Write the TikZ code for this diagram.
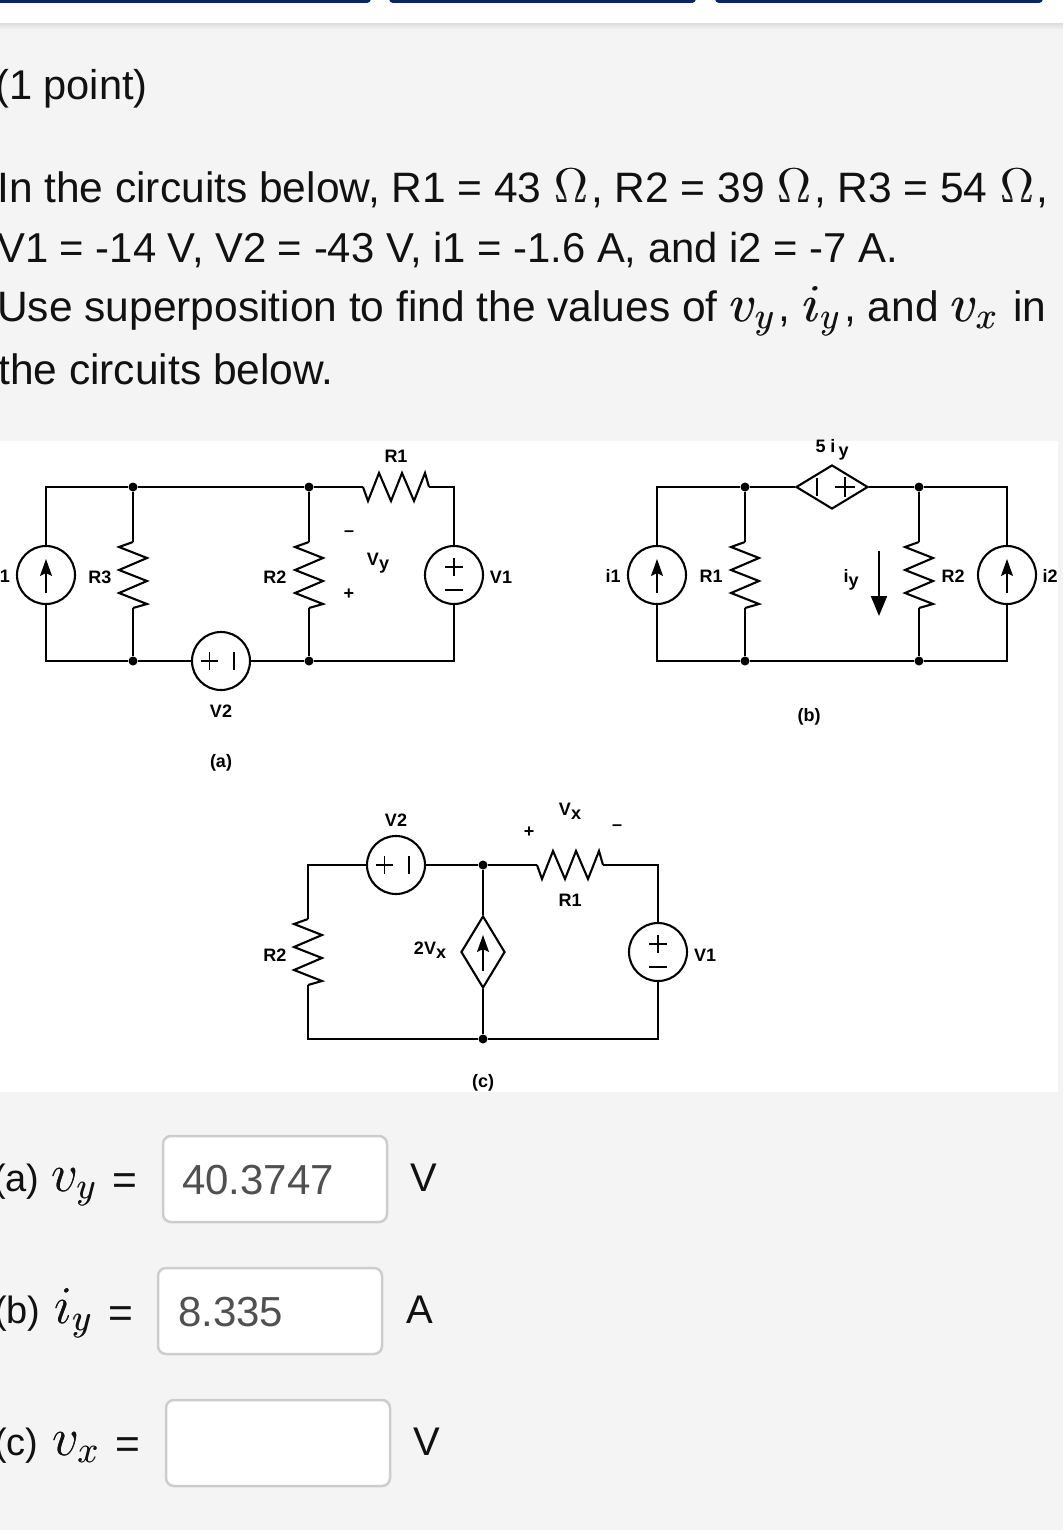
\RequirePackage{fix-cm}
\documentclass[tikz,border=0pt]{standalone}
\usepackage{fontspec}
\setmainfont{Liberation Sans}
\usetikzlibrary{arrows.meta,shapes.geometric}

\definecolor{pagegrey}{HTML}{F4F4F4}
\definecolor{navy}{HTML}{0B2560}
\definecolor{txt}{HTML}{111111}
\definecolor{boxline}{HTML}{CDCDCD}
\definecolor{anstxt}{HTML}{505050}

\newcommand{\mth}[1]{{\fontsize{49}{49}\selectfont\rlap{$#1$}\hspace{0.6pt}$#1$}}
\newcommand{\mtv}[1]{{\fontsize{53}{53}\selectfont\rlap{$#1$}\hspace{0.6pt}$#1$}}

\tikzset{
  wire/.style={line width=2.1pt, line join=miter},
  symb/.style={line width=1.6pt},
  dot/.style={circle, fill=black, inner sep=0pt, minimum size=9pt},
  lab/.style={inner sep=0pt, font=\fontsize{18}{18}\bfseries\selectfont},
  body/.style={anchor=base west, inner sep=0pt, text=txt, font=\fontsize{42.5}{42.5}\selectfont},
  rowtag/.style={body, font=\fontsize{38}{38}\selectfont},
  unit/.style={body, font=\fontsize{40}{40}\selectfont},
  ansbox/.style={draw=boxline, line width=2.5pt, fill=white, rounded corners=8pt, minimum width=224pt, minimum height=86pt, inner sep=0pt},
  anstext/.style={anchor=base west, inner sep=0pt, text=anstxt, font=\fontsize{42}{42}\selectfont},
  srcbase/.style={circle, draw, fill=white, line width=2.1pt, minimum size=58pt, inner sep=0pt},
  isrc/.style={srcbase, path picture={
      \draw[symb,-{Stealth[length=17pt,width=12pt,inset=3pt]}] ([yshift=-18pt]path picture bounding box.center) -- ([yshift=16pt]path picture bounding box.center);}},
  vsrcv/.style={srcbase, path picture={
      \draw[symb] (path picture bounding box.center) +(-9,-8) -- +(9,-8) +(0,-17) -- +(0,1) +(-9,15) -- +(9,15);}},
  vsrch/.style={srcbase, path picture={
      \draw[symb] (path picture bounding box.center) +(-20,0) -- +(-3,0) +(-11.5,-9) -- +(-11.5,9) +(13,-9) -- +(13,9);}},
  dsrch/.style={diamond, draw, fill=white, line width=2.1pt, inner sep=0pt, minimum width=72pt, minimum height=44pt, path picture={
      \draw[symb] (path picture bounding box.center) +(-15,-9) -- +(-15,9) +(3,0) -- +(23,0) +(13,-10) -- +(13,10);}},
  dsrcv/.style={diamond, draw, fill=white, line width=2.1pt, inner sep=0pt, minimum width=44pt, minimum height=72pt, path picture={
      \draw[symb,-{Stealth[length=17pt,width=12pt,inset=3pt]}] ([yshift=-19pt]path picture bounding box.center) -- ([yshift=17pt]path picture bounding box.center);}},
  vres/.pic={
    \draw[wire] (0,-33) coordinate (-s) -- (-14,-28) -- (14,-17) -- (-14,-5) -- (14,6) -- (-14,18) -- (14,29) -- (0,33) coordinate (-e);}
}

\begin{document}
\begin{tikzpicture}[x=1pt,y=-1pt]
\useasboundingbox (0,0) rectangle (1063,1530);

%% page
\fill[pagegrey] (0,0) rectangle (1063,1530);
\fill[white] (0,0) rectangle (1063,24);
\shade[top color=black!12, bottom color=pagegrey] (0,24) rectangle (1063,30);
\fill[navy, rounded corners=4pt] (-10,-10) rectangle (371,3);
\fill[navy, rounded corners=4pt] (389,-10) rectangle (696,3);
\fill[navy, rounded corners=4pt] (715,-10) rectangle (1043,3);
\fill[white] (0,441) rectangle (1058,1092);

%% text
\node[body, font=\fontsize{41.6}{41.6}\selectfont] (pts) at (-5,100) {(1 point)};
\node[body] (l1) at (-3,203) {In the circuits below, R1 = 43\hspace{13pt}\mth{\Omega}\hspace{3pt}, R2 = 39\hspace{13pt}\mth{\Omega}\hspace{3pt}, R3 = 54\hspace{13pt}\mth{\Omega}\hspace{3pt},};
\node[body, font=\fontsize{41.8}{41.8}\selectfont] (l2) at (-3,262) {V1 = -14 V, V2 = -43 V, i1 = -1.6 A, and i2 = -7 A.};
\node[body] (l3) at (-3,321) {Use superposition to find the values of \mtv{v_y}\hspace{4pt}, \mtv{i_y}\hspace{4pt}, and \mtv{v_x}\hspace{16pt}in};
\node[body] (l4) at (-2,384) {the circuits below.};

%% circuit a
\node[dot] (ja) at (133,487) {};
\node[dot] (jb) at (309,487) {};
\node[dot] (jc) at (133,661) {};
\node[dot] (jd) at (309,661) {};
\coordinate (atl) at (46,487);
\coordinate (abl) at (46,661);
\coordinate (atr) at (454,487);
\coordinate (abr) at (454,661);
\node[isrc] (ia) at (46,575) {};
\node[vsrcv] (va) at (454,575) {};
\node[vsrch] (vb) at (221,661) {};
\pic (r3a) at (133,575) {vres};
\pic (r2a) at (309,575) {vres};
\pic[rotate=90] (r1a) at (396,487) {vres};

\draw[wire] (ia) -- (atl) -- (ja);
\draw[wire] (ia) -- (abl) -- (jc);
\draw[wire] (ja) -- (jb);
\draw[wire] (jb) -- (r1a-s);
\draw[wire] (r1a-e) -- (atr) -- (va);
\draw[wire] (va) -- (abr) -- (jd);
\draw[wire] (jc) -- (vb);
\draw[wire] (vb) -- (jd);
\draw[wire] (ja) -- (r3a-s);
\draw[wire] (r3a-e) -- (jc);
\draw[wire] (jb) -- (r2a-s);
\draw[wire] (r2a-e) -- (jd);

\node[lab] (la1) at (5,576) {1};
\node[lab] (la2) at (100,577) {R3};
\node[lab] (la3) at (275,577) {R2};
\node[lab] (la4) at (396,456) {R1};
\node[lab] (la5) at (501,577) {V1};
\node[lab] (la6) at (221,711) {V2};
\node[lab] (la7) at (378,563) {V\raisebox{-4pt}{y}};
\node[lab] (la8) at (349,594) {+};
\node[lab] (la9) at (349,534) {–};
\node[lab] (la10) at (221,763) {(a)};

%% circuit b
\node[dot] (je) at (745,487) {};
\node[dot] (jf) at (919,487) {};
\node[dot] (jg) at (745,661) {};
\node[dot] (jh) at (919,661) {};
\coordinate (btl) at (657,487);
\coordinate (bbl) at (657,661);
\coordinate (btr) at (1007,487);
\coordinate (bbr) at (1007,661);
\coordinate (iyt) at (879,551);
\coordinate (iyb) at (879,616);
\node[isrc] (ib) at (657,575) {};
\node[isrc] (ic) at (1007,575) {};
\node[dsrch] (db) at (832,487) {};
\pic (r1b) at (745,575) {vres};
\pic (r2b) at (919,575) {vres};

\draw[wire] (ib) -- (btl) -- (je);
\draw[wire] (ib) -- (bbl) -- (jg);
\draw[wire] (je) -- (db);
\draw[wire] (db) -- (jf);
\draw[wire] (jf) -- (btr) -- (ic);
\draw[wire] (ic) -- (bbr) -- (jh);
\draw[wire] (jg) -- (jh);
\draw[wire] (je) -- (r1b-s);
\draw[wire] (r1b-e) -- (jg);
\draw[wire] (jf) -- (r2b-s);
\draw[wire] (r2b-e) -- (jh);
\draw[wire,-{Triangle[length=20pt,width=16pt]}] (iyt) -- (iyb);

\node[lab] (lb1) at (613,576) {i1};
\node[lab] (lb2) at (711,576) {R1};
\node[lab] (lb3) at (851,580) {i\raisebox{-4pt}{y}};
\node[lab] (lb4) at (953,576) {R2};
\node[lab] (lb5) at (1050,576) {i2};
\node[lab] (lb6) at (832,450) {5 i\,\raisebox{-4pt}{y}};
\node[lab] (lb7) at (809,717) {(b)};

%% circuit c
\node[dot] (jj) at (483,865) {};
\node[dot] (jk) at (483,1039) {};
\coordinate (ctl) at (308,865);
\coordinate (cbl) at (308,1039);
\coordinate (ctr) at (658,865);
\coordinate (cbr) at (658,1039);
\node[vsrch] (vc) at (396,865) {};
\node[vsrcv] (vd) at (658,952) {};
\node[dsrcv] (dc) at (483,952) {};
\pic (r2c) at (308,952) {vres};
\pic[rotate=90] (r1c) at (570,865) {vres};

\draw[wire] (vc) -- (ctl) -- (r2c-s);
\draw[wire] (r2c-e) -- (cbl) -- (jk);
\draw[wire] (vc) -- (jj);
\draw[wire] (jj) -- (r1c-s);
\draw[wire] (r1c-e) -- (ctr) -- (vd);
\draw[wire] (vd) -- (cbr) -- (jk);
\draw[wire] (jj) -- (dc);
\draw[wire] (dc) -- (jk);

\node[lab] (lc1) at (396,820) {V2};
\node[lab] (lc2) at (570,811) {V\raisebox{-4pt}{x}};
\node[lab] (lc3) at (529,832) {+};
\node[lab] (lc4) at (617,828) {–};
\node[lab] (lc5) at (570,900) {R1};
\node[lab] (lc6) at (275,955) {R2};
\node[lab] (lc7) at (430,950) {2V\raisebox{-4pt}{x}};
\node[lab] (lc8) at (705,955) {V1};
\node[lab] (lc9) at (483,1083) {(c)};

%% answers
\node[rowtag] (qa) at (-7,1191) {(a)};
\node[body] (ma) at (51,1191) {\mtv{v_y}};
\node[body] (ea) at (112,1194) {=};
\node[ansbox] (ba) at (275,1179) {};
\node[anstext] (ta) at (182,1194) {40.3747};
\node[unit] (ua) at (410,1191) {V};

\node[rowtag] (qb) at (-6,1323) {(b)};
\node[body] (mb) at (54,1323) {\mtv{i_y}};
\node[body] (eb) at (108,1327) {=};
\node[ansbox] (bb) at (270,1311) {};
\node[anstext] (tb) at (178,1326) {8.335};
\node[unit] (ub) at (406,1323) {A};

\node[rowtag] (qc) at (-6,1455) {(c)};
\node[body] (mc) at (52,1455) {\mtv{v_x}};
\node[body] (ec) at (115,1458) {=};
\node[ansbox] (bc) at (278,1443) {};
\node[unit] (uc) at (413,1455) {V};

\end{tikzpicture}
\end{document}
